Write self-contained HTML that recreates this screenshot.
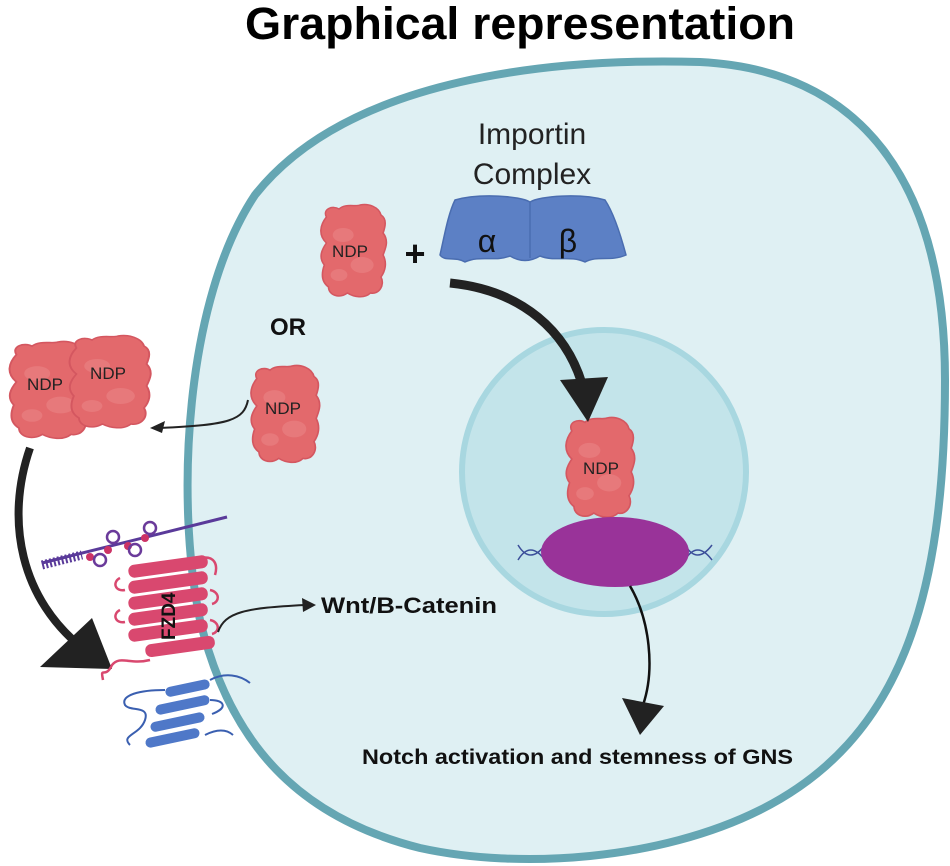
<!DOCTYPE html>
<html><head><meta charset="utf-8"><style>
html,body{margin:0;padding:0;background:#fff;}
svg{display:block;}
text{font-family:"Liberation Sans",Arial,sans-serif;}
</style></head><body>
<svg width="950" height="866" viewBox="0 0 950 866" xmlns="http://www.w3.org/2000/svg">
<defs>
<g id="ndp">
<path d="M8,12 C4,4 14,0 20,4 C26,-2 36,2 40,0 C48,-2 58,2 60,10 C66,14 64,22 62,28 C68,36 64,44 62,50 C66,58 64,66 60,72 C64,80 58,90 50,88 C44,94 34,92 28,88 C20,94 10,90 10,82 C2,76 4,66 6,60 C0,52 4,44 8,38 C0,30 2,20 8,12 Z" fill="#e3696c" stroke="#d45760" stroke-width="1.5"/>
<ellipse cx="24" cy="30" rx="10" ry="7" fill="#ea8485" opacity=".6"/>
<ellipse cx="42" cy="60" rx="11" ry="8" fill="#ea8485" opacity=".6"/>
<ellipse cx="20" cy="70" rx="8" ry="6" fill="#ea8485" opacity=".6"/>
</g>
</defs>

<text x="520" y="39" font-size="45" font-weight="bold" text-anchor="middle" fill="#000" textLength="550" lengthAdjust="spacingAndGlyphs">Graphical representation</text>

<!-- cell -->
<path d="M700 62 C860 70 945 180 945 380 C945 600 900 740 760 810 C660 860 520 870 420 848 C300 818 230 745 200 620 C175 500 185 300 255 195 C350 75 560 58 700 62 Z" fill="#dff0f3" stroke="#65a6b3" stroke-width="8"/>

<!-- nucleus -->
<circle cx="604" cy="472" r="142" fill="#c3e4ea" stroke="#a8d7e0" stroke-width="6"/>

<!-- importin -->
<text x="532" y="144" font-size="30" text-anchor="middle" fill="#222">Importin</text>
<text x="532" y="184" font-size="30" text-anchor="middle" fill="#222">Complex</text>
<path d="M455 200 C480 193 520 196 530 202 C540 196 580 193 605 200 C615 215 622 240 626 255 C610 262 598 255 585 262 C570 255 555 262 540 256 C530 262 520 262 510 256 C495 262 480 255 465 262 C455 256 445 262 440 255 C444 238 448 214 455 200 Z" fill="#5c80c5" stroke="#4a6db0" stroke-width="1.5"/>
<line x1="530" y1="202" x2="530" y2="258" stroke="#4a6db0" stroke-width="1.5"/>
<text x="487" y="252" font-size="32" text-anchor="middle" fill="#111">α</text>
<text x="568" y="252" font-size="32" text-anchor="middle" fill="#111">β</text>

<!-- NDPs -->
<use href="#ndp" transform="translate(318,205) scale(1.05,1.0)"/>
<text x="350" y="257" font-size="17" text-anchor="middle" fill="#222">NDP</text>
<text x="415" y="266" font-size="36" font-weight="bold" text-anchor="middle" fill="#111">+</text>
<text x="288" y="335" font-size="24" font-weight="bold" text-anchor="middle" fill="#111">OR</text>

<use href="#ndp" transform="translate(248,366) scale(1.1,1.05)"/>
<text x="283" y="414" font-size="17" text-anchor="middle" fill="#222">NDP</text>

<use href="#ndp" transform="translate(6,342) scale(1.3,1.05)"/>
<use href="#ndp" transform="translate(66,336) scale(1.3,1.0)"/>
<text x="45" y="390" font-size="17" text-anchor="middle" fill="#222">NDP</text>
<text x="108" y="379" font-size="17" text-anchor="middle" fill="#222">NDP</text>

<use href="#ndp" transform="translate(563,418) scale(1.1,1.08)"/>
<text x="601" y="474" font-size="17" text-anchor="middle" fill="#222">NDP</text>

<!-- DNA and purple -->
<path d="M518 545 Q530 565 545 545 M518 560 Q530 540 545 560" stroke="#3c4f9a" stroke-width="1.5" fill="none"/>
<path d="M685 545 Q697 565 712 545 M685 560 Q697 540 712 560" stroke="#3c4f9a" stroke-width="1.5" fill="none"/>
<ellipse cx="615" cy="552" rx="74" ry="35" fill="#993399"/>

<!-- big arrow into nucleus -->
<path d="M450 283 C520 290 570 330 585 395" stroke="#222" stroke-width="9" fill="none"/>
<polygon points="560,380 608,377 588,422" fill="#222"/>

<!-- arrow from nucleus to Notch -->
<path d="M630 586 C650 620 655 670 643 705" stroke="#111" stroke-width="2.5" fill="none"/>
<polygon points="622,698 664,706 640,735" fill="#222"/>

<!-- left big arrow -->
<path d="M30 448 C5 520 20 600 85 650" stroke="#222" stroke-width="8" fill="none"/>
<polygon points="40,667 92,618 112,669" fill="#222"/>

<!-- thin arrow out -->
<path d="M248 400 C244 420 230 425 160 428" stroke="#222" stroke-width="2" fill="none"/>
<polygon points="150,428 165,421 162,433" fill="#222"/>

<!-- FZD4 -->
<line x1="42" y1="563" x2="227" y2="517" stroke="#5a3a9a" stroke-width="3"/>
<path d="M42 565 l40 -10" stroke="#5a3a9a" stroke-width="9" stroke-dasharray="2 2"/>
<circle cx="90" cy="557" r="4" fill="#cc3366"/><circle cx="108" cy="550" r="4" fill="#cc3366"/><circle cx="128" cy="546" r="4" fill="#cc3366"/><circle cx="145" cy="538" r="4" fill="#cc3366"/>
<circle cx="100" cy="560" r="6" fill="none" stroke="#6a3a9a" stroke-width="2.5"/><circle cx="113" cy="537" r="6" fill="none" stroke="#6a3a9a" stroke-width="2.5"/><circle cx="135" cy="550" r="6" fill="none" stroke="#6a3a9a" stroke-width="2.5"/><circle cx="150" cy="528" r="6" fill="none" stroke="#6a3a9a" stroke-width="2.5"/>
<g fill="#d9486f">
<rect x="128" y="560" width="80" height="13" rx="6" transform="rotate(-8 168 566)"/>
<rect x="128" y="576" width="80" height="13" rx="6" transform="rotate(-8 168 582)"/>
<rect x="128" y="592" width="80" height="13" rx="6" transform="rotate(-8 168 598)"/>
<rect x="128" y="608" width="80" height="13" rx="6" transform="rotate(-8 168 614)"/>
<rect x="128" y="624" width="80" height="13" rx="6" transform="rotate(-8 168 630)"/>
<rect x="145" y="640" width="70" height="13" rx="6" transform="rotate(-8 180 646)"/>
</g>
<path d="M200 558 C215 555 218 565 215 575 M120 578 C112 582 115 592 125 590 M120 610 C112 614 115 624 125 622 M210 590 C220 592 220 602 212 604 M210 620 C220 622 220 632 212 634 M150 660 C130 665 120 655 112 665 C105 680 100 665 103 680" stroke="#d9486f" stroke-width="2.5" fill="none"/>
<text x="0" y="0" font-size="19" font-weight="bold" fill="#111" transform="translate(175,640) rotate(-90)">FZD4</text>

<!-- blue LRP -->
<g fill="#4f78c8">
<rect x="165" y="683" width="45" height="10" rx="5" transform="rotate(-12 188 688)"/>
<rect x="155" y="700" width="55" height="10" rx="5" transform="rotate(-12 182 705)"/>
<rect x="150" y="717" width="55" height="10" rx="5" transform="rotate(-12 178 722)"/>
<rect x="145" y="733" width="55" height="10" rx="5" transform="rotate(-12 172 738)"/>
</g>
<path d="M165 690 C140 690 120 695 125 705 C130 712 150 705 145 720 C140 735 120 735 130 745 M210 680 C225 672 240 675 250 683 M210 700 C225 700 228 708 212 714 M205 735 C215 730 225 728 233 735" stroke="#3a5fb0" stroke-width="2" fill="none"/>

<!-- Wnt arrow -->
<path d="M218 632 C225 612 245 608 305 605" stroke="#222" stroke-width="2" fill="none"/>
<polygon points="316,605 302,598 303,612" fill="#222"/>
<text x="321" y="613" font-size="22" font-weight="bold" fill="#111" textLength="176" lengthAdjust="spacingAndGlyphs">Wnt/B-Catenin</text>

<text x="362" y="764" font-size="21" font-weight="bold" fill="#111" textLength="431" lengthAdjust="spacingAndGlyphs">Notch activation and stemness of GNS</text>
</svg>
</body></html>
